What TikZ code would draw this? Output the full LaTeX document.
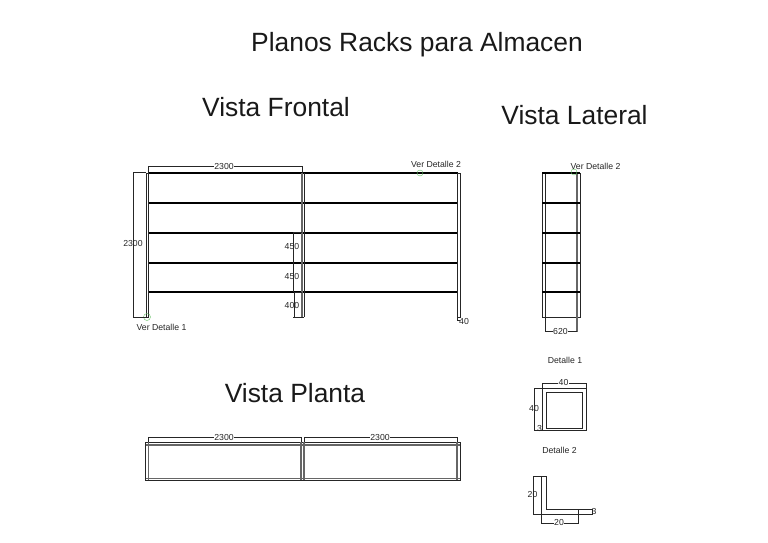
\documentclass[tikz,border=0pt]{standalone}
\usepackage{fontspec}
\setmainfont{Liberation Sans}
\tikzset{
	titulo/.style={inner sep=0pt, font=\fontsize{26.4}{27}\selectfont, text=black!90},
	cota/.style={inner sep=0.5pt, font=\fontsize{8.7}{9}\selectfont, text=black!85},
	cotab/.style={cota, fill=white},
	linea/.style={line width=0.85pt, black!85},
	doble/.style={line width=1.1pt, black!60},
	estante/.style={line width=1.6pt, black},
	detalle/.style={green!60!black!60, line width=0.4pt}
}
\begin{document}
\begin{tikzpicture}[x=1pt, y=-1pt]
	\useasboundingbox (0,0) rectangle (768,542);
	%titles
	\node[titulo] (tplanos) at (417, 45){Planos Racks para Almacen};
	\node[titulo] (tfrontal) at (276, 107){Vista Frontal};
	\node[titulo] (tlateral) at (574.5, 115){Vista Lateral};
	\node[titulo] (tplanta) at (295, 393){Vista Planta};
	
	%front view
	\foreach \y in {173, 203, 232.8, 263, 292}{
		\draw[estante] (148, \y)--(458, \y);
	}
	\draw[linea] (146, 173) rectangle (148.5, 317);
	\draw[doble] (302, 173)--(302, 317);
	\draw[linea] (304, 173)--(304, 317);
	\draw[linea] (457.5, 173) rectangle (460, 317);
	\draw[detalle] (147, 317) circle (3.5);
	\draw[detalle] (420, 173) circle (3);
	\draw[linea] (148, 173)--(148, 166.5)--(302, 166.5)--(302, 173);
	\node[cotab] (a1) at (224, 166){2300};
	\draw[linea] (146, 172.7)--(133.5, 172.7)--(133.5, 317)--(146, 317);
	\node[cota] (a2) at (133, 243.5){2300};
	\draw[linea] (302, 232.8)--(293, 232.8)--(293, 292);
	\draw[linea] (302, 292)--(294, 292)--(294, 317);
	\draw[linea] (293, 317)--(304, 317);
	\node[cota] (a3) at (292, 246.5){450};
	\node[cota] (a4) at (292, 276.5){450};
	\node[cota] (a5) at (292, 305){400};
	\draw[linea] (457.5, 317)--(457.5, 320)--(460, 320);
	\node[cota] (a6) at (464, 321){40};
	\node[cota] (ver1) at (161.5, 327){Ver Detalle 1};
	\node[cota] (ver2) at (436, 164){Ver Detalle 2};
	
	%side view
	\draw[linea] (542, 173) rectangle (580, 317);
	\draw[linea] (545, 173)--(545, 332);
	\draw[doble] (577, 173)--(577, 332);
	\foreach \y in {173, 203, 232.8, 263, 292}{
		\draw[estante] (542, \y)--(580, \y);
	}
	\draw[detalle] (574, 172) circle (3);
	\draw[linea] (545, 331.7)--(577, 331.7);
	\node[cotab] (b1) at (560.5, 331){620};
	\node[cota] (ver3) at (595.5, 166){Ver Detalle 2};
	
	%detail 1
	\node[cota] (d1) at (565, 360.5){Detalle 1};
	\draw[linea] (542, 388) rectangle (586, 430);
	\draw[linea] (546, 392.5) rectangle (582.5, 428.5);
	\draw[linea] (542, 388)--(542, 383.3)--(586, 383.3)--(586, 388);
	\node[cotab] (c1) at (563.5, 382.5){40};
	\draw[linea] (542, 388)--(534, 388)--(534, 430)--(542, 430);
	\node[cota] (c2) at (534, 408.5){40};
	\node[cota] (c3) at (539.5, 428){3};
	
	%detail 2
	\node[cota] (d2) at (559.5, 450.5){Detalle 2};
	\draw[linea] (541.7, 476.7)--(546.7, 476.7)--(546.7, 509.3)--(592.7, 509.3)--(592.7, 514.5)--(541.7, 514.5)--cycle;
	\draw[linea] (541.7, 476.7)--(533.3, 476.7)--(533.3, 514.5)--(541.7, 514.5);
	\node[cota] (e1) at (532.5, 494.5){20};
	\draw[linea] (541.7, 514.5)--(541.7, 523.3)--(578.3, 523.3)--(578.3, 509.3);
	\node[cotab] (e2) at (559, 522.5){20};
	\node[cota] (e3) at (594, 511){3};
	
	%plan view
	\draw[linea] (145.7, 442.3) rectangle (460, 480);
	\draw[doble] (145.7, 445)--(460, 445);
	\draw[doble] (145.7, 478.5)--(460, 478.5);
	\foreach \x in {148.3, 301, 304, 457}{
		\draw[doble] (\x, 442.3)--(\x, 480);
	}
	\draw[linea] (148.3, 442.3)--(148.3, 437.7)--(301, 437.7)--(301, 442.3);
	\draw[linea] (304, 442.3)--(304, 437.7)--(457, 437.7)--(457, 442.3);
	\node[cotab] (p1) at (224, 437){2300};
	\node[cotab] (p2) at (380, 437){2300};
\end{tikzpicture}
\end{document}
